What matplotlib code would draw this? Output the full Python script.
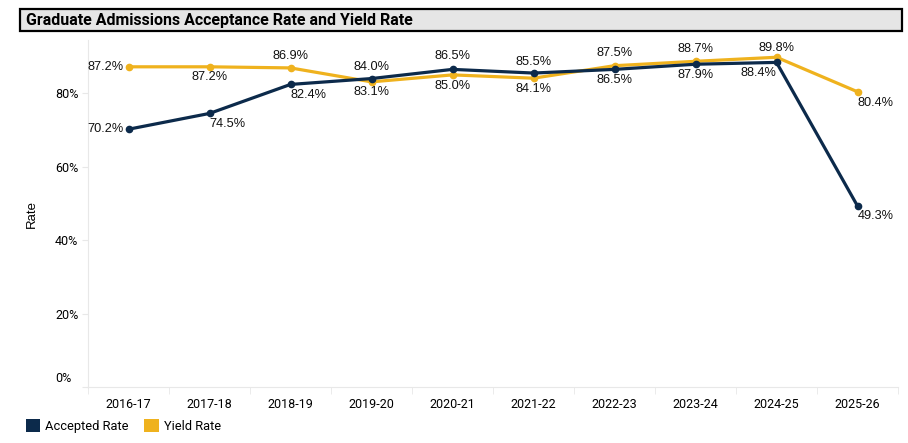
import numpy as np
import matplotlib.pyplot as plt
from matplotlib.patches import Rectangle, Patch

# --- data ---
years = ["2016-17", "2017-18", "2018-19", "2019-20", "2020-21",
         "2021-22", "2022-23", "2023-24", "2024-25", "2025-26"]
accepted = [70.2, 74.5, 82.4, 84.0, 86.5, 85.5, 86.5, 87.9, 88.4, 49.3]
yield_rate = [87.2, 87.2, 86.9, 83.1, 85.0, 84.1, 87.5, 88.7, 89.8, 80.4]

# label placement per point: (dx px, dy px, ha, va)
acc_pos = [(-5, 0, "right", "center"), (0, -11, "left", "center"),
           (0, -11, "left", "center"), (0, 12, "center", "center"),
           (0, 13, "center", "center"), (0, 11.5, "center", "center"),
           (0, -10.5, "center", "center"), (0, -11, "center", "center"),
           (0, -11, "right", "center"), (0, -10, "left", "center")]
yld_pos = [(-5, 0, "right", "center"), (0, -10.5, "center", "center"),
           (0, 11.5, "center", "center"), (0, -10, "center", "center"),
           (0, -11.5, "center", "center"), (0, -11, "center", "center"),
           (0, 12.5, "center", "center"), (0, 12, "center", "center"),
           (0, 9, "center", "center"), (0, -11.5, "left", "center")]

NAVY = "#0c2a4b"
GOLD = "#efb21e"
GRID = "#e8e8e8"
LABEL_FONT = ["Liberation Sans", "DejaVu Sans"]
TICK_FONT = ["Roboto", "DejaVu Sans"]

fig = plt.figure(figsize=(9.08, 4.43), dpi=100)
W, H = 908, 443
ax = fig.add_axes([88 / W, 1 - 387 / H, 810 / W, 347 / H])

x = np.arange(len(years))
ax.plot(x, yield_rate, color=GOLD, lw=2.3, marker="o", ms=4.5, zorder=3)
ax.plot(x, accepted, color=NAVY, lw=2.3, marker="o", ms=4.5, zorder=4)

px = 0.72  # px -> points at 100 dpi
for vals, pos in ((accepted, acc_pos), (yield_rate, yld_pos)):
    for xi, v, (dx, dy, ha, va) in zip(x, vals, pos):
        ax.annotate(f"{v:.1f}%", (xi, v), xytext=(dx * px, dy * px),
                    textcoords="offset points", ha=ha, va=va,
                    fontsize=9.2, family=LABEL_FONT, color="#111111", zorder=5)

ax.set_xlim(-0.5, len(years) - 0.5)
ax.set_ylim(0, 94.5)
ax.set_yticks([0, 20, 40, 60, 80])
ax.set_yticklabels(["", "20%", "40%", "60%", "80%"], family=TICK_FONT, fontsize=9)
ax.set_xticks(x)
ax.set_xticklabels(years, family=TICK_FONT, fontsize=9)
ax.set_xticks(np.arange(-0.5, len(years), 1), minor=True)
ax.tick_params(axis="x", which="major", length=0, pad=8)
ax.tick_params(axis="x", which="minor", length=5, color=GRID)
ax.tick_params(axis="y", length=4, color=GRID, pad=3)
# 0% label sits slightly above the baseline, as in the source
ax.text(-0.02, 9 / 347, "0%", transform=ax.transAxes, ha="right", va="center",
        fontsize=9, family=TICK_FONT)

for side in ("top", "right"):
    ax.spines[side].set_visible(False)
ax.spines["left"].set_color(GRID)
ax.spines["bottom"].set_color(GRID)
ax.set_ylabel("Rate", family=LABEL_FONT, fontsize=9.5)
ax.yaxis.set_label_coords(-50 / 810, 0.5)

# title box
fig.patches.append(Rectangle((20 / W, 1 - 31 / H), 882 / W, 22 / H,
                             transform=fig.transFigure, facecolor="#e6e6e6",
                             edgecolor="black", lw=1.6))
fig.text(26 / W, 1 - 20.5 / H, "Graduate Admissions Acceptance Rate and Yield Rate",
         ha="left", va="center", fontsize=11.5, fontweight="bold", family=TICK_FONT)

handles = [Patch(facecolor=NAVY, label="Accepted Rate"),
           Patch(facecolor=GOLD, label="Yield Rate")]
fig.legend(handles=handles, loc="center left", bbox_to_anchor=(26 / W, 1 - 426 / H),
           ncol=2, frameon=False, prop={"family": TICK_FONT, "size": 9.3},
           handlelength=1.1, handleheight=1.1, handletextpad=0.4,
           columnspacing=1.2, borderaxespad=0, borderpad=0)

fig.savefig("out.png", dpi=100)
